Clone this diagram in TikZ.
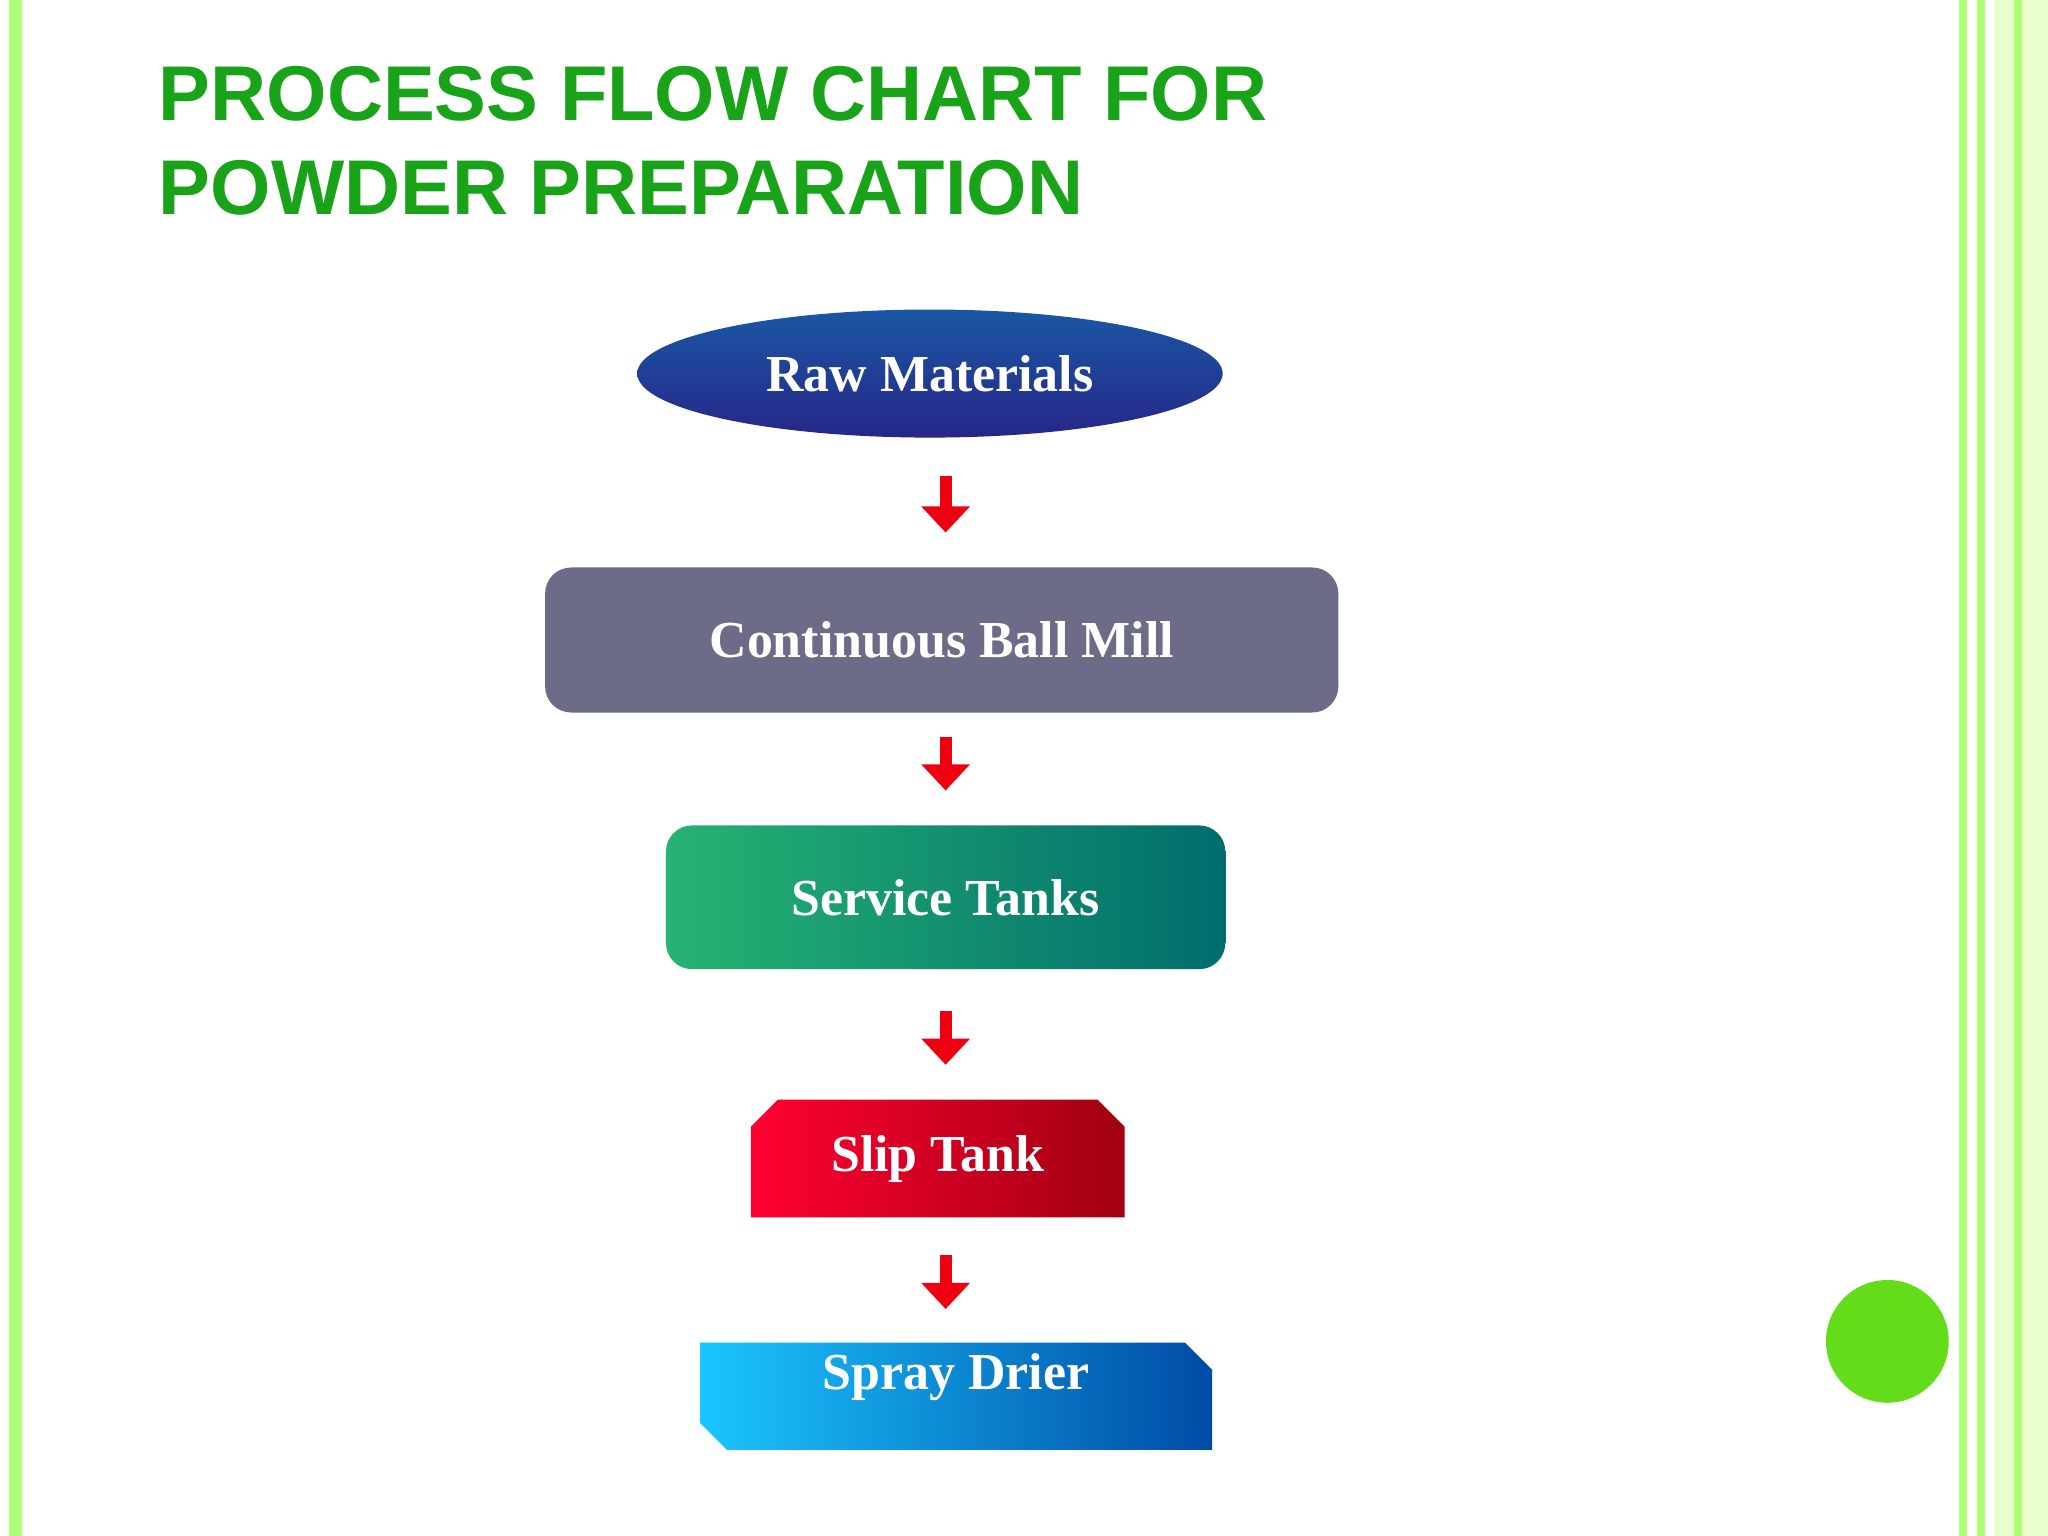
\documentclass[tikz,border=0pt]{standalone}
\usepackage{fontspec}
\setmainfont{Liberation Serif}
\newfontfamily\titlefont{Liberation Sans}
\usetikzlibrary{positioning,shapes.geometric,shapes.misc,arrows.meta}

\begin{document}
\begin{tikzpicture}[x=0.01cm,y=-0.01cm,
    box/.style={draw=none, text=white, font=\bfseries\fontsize{11.3}{13}\selectfont},
    flow/.style={draw=red!75!purple, line width=0.9mm, -{Triangle[length=2mm,width=3.6mm]}},
    stripe/.style={draw=green!45!lime!55!white},
    ]
    % Frame
    \useasboundingbox (0,0) rectangle (1568,1176);
    \fill[white] (0,0) rectangle (1568,1176);
    \draw[stripe, line width=1mm] (12,0) -- (12,1176);
    \draw[stripe, line width=0.6mm] (1503,0) -- (1503,1176);
    \draw[stripe, line width=0.6mm] (1517,0) -- (1517,1176);
    \fill[green!25!lime!20!white] (1527,0) rectangle (1568,1176);
    \draw[stripe, line width=0.6mm] (1545,0) -- (1545,1176);
    \fill[green!50!lime!85!black!90] (1445,1027) circle (47);

    % Title
    \node[anchor=west, text=green!60!black!90, font=\titlefont\bfseries\fontsize{16.9}{20.5}\selectfont,
      align=left, inner sep=0pt] (title) at (121,108)
      {PROCESS FLOW CHART FOR\\POWDER PREPARATION};

    % Place nodes
    \node [box, ellipse, minimum width=4.48cm, minimum height=0.98cm,
      top color=blue!55!cyan!60!black!90, bottom color=blue!45!black!85] (raw) at (712,286) {Raw Materials};
    \node [box, rounded corners=2mm, minimum width=6.07cm, minimum height=1.11cm,
      fill=gray!80!blue!70!black!80] (mill) at (721,490) {Continuous Ball Mill};
    \node [box, rounded corners=2mm, minimum width=4.28cm, minimum height=1.10cm,
      left color=teal!70!green!85, right color=teal!85!black] (tanks) at (724,687) {Service Tanks};
    \node [box, chamfered rectangle, chamfered rectangle corners={north west,north east},
      chamfered rectangle xsep=1mm, minimum width=2.86cm, minimum height=0.90cm,
      left color=red!80!magenta, right color=red!60!purple!70!black] (slip) at (718,887) {Slip Tank};
    \node [box, chamfered rectangle, chamfered rectangle corners={north east,south west},
      chamfered rectangle xsep=1mm, minimum width=3.92cm, minimum height=0.82cm,
      inner ysep=0.02cm, text height=0.2cm, text depth=0.3cm,
      left color=cyan!75!blue!90, right color=cyan!45!blue!65!black] (drier) at (732,1069) {Spray Drier};

    % Draw edges
    \path [flow, shorten <=2.9mm, shorten >=2.6mm] (raw.south -| tanks.north) -- (mill.north -| tanks.north);
    \path [flow, shorten <=1.8mm, shorten >=2.6mm] (mill.south -| tanks.north) -- (tanks.north);
    \path [flow, shorten <=3.1mm, shorten >=2.6mm] (tanks.south) -- (tanks.south |- slip.north);
    \path [flow, shorten <=2.8mm, shorten >=2.5mm] (slip.south -| tanks.south) -- (drier.north -| tanks.south);
\end{tikzpicture}
\end{document}
